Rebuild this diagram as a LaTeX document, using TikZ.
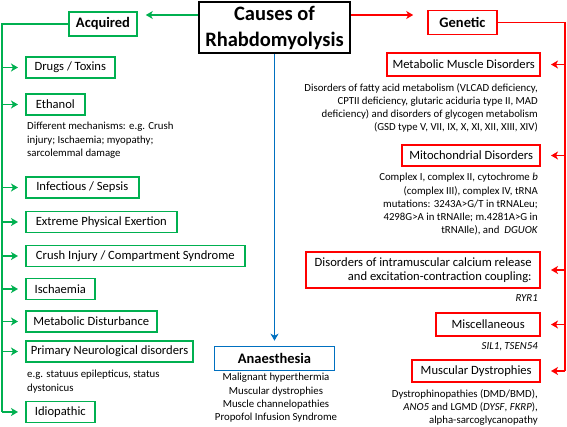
\documentclass[tikz,border=0pt]{standalone}
\usepackage{fontspec}
\setmainfont{Carlito}
\usetikzlibrary{arrows.meta}
\definecolor{acqgreen}{RGB}{0,176,80}
\definecolor{genred}{RGB}{255,0,0}
\definecolor{anablue}{RGB}{0,112,192}
\tikzset{
  greenbox/.style={draw=acqgreen, line width=1.6pt, anchor=west, inner xsep=5pt, minimum height=21pt, font=\fontsize{12.6}{14}\selectfont},
  redbox/.style={draw=genred, line width=1.6pt, anchor=east, inner xsep=5pt, minimum height=22pt, font=\fontsize{12.6}{14.5}\selectfont},
  headbox/.style={line width=1.6pt, minimum height=24pt, inner xsep=5pt, font=\fontsize{14.5}{16}\selectfont\bfseries},
  smalltext/.style={inner sep=0pt, font=\fontsize{10.8}{13.3}\selectfont},
  feedarrow/.style={-{Stealth[length=7pt,width=8pt,inset=2pt]}, line width=1.7pt}
}
\begin{document}
\begin{tikzpicture}[x=1pt,y=-1pt]
\useasboundingbox (0,0) rectangle (567,426);

\node (title) at (274.5,27.5) [draw=black, line width=2.5pt, minimum width=151pt, minimum height=51pt, align=center, font=\fontsize{20.5}{26}\selectfont\bfseries] {Causes of\\Rhabdomyolysis};

% acquired side
\node (acquired) at (103,24) [headbox, draw=acqgreen, minimum width=68pt] {Acquired};
\coordinate (tl) at ([yshift=12.5pt]title.west);
\draw[feedarrow, color=acqgreen, shorten >=8pt] (tl) -- (tl -| acquired.east);
\coordinate (gtop) at (2,24);
\coordinate (gbot) at (2,412);
\draw[color=acqgreen, line width=1.7pt] (acquired.west) -- (gtop) -- (gbot);
\foreach \name/\txt/\ypos/\bw in {drugs/{Drugs / Toxins}/67.5/89, ethanol/Ethanol/104.5/59,
    infect/{Infectious / Sepsis}/187.5/113, exertion/Extreme Physical Exertion/222/151,
    crush/{Crush Injury / Compartment Syndrome}/256/219, ischaemia/Ischaemia/289/69,
    metdist/Metabolic Disturbance/321.5/131, neuro/Primary Neurological disorders/351.5/164,
    idio/Idiopathic/412/69} {
  \node (\name) at (25,\ypos) [greenbox, minimum width=\bw pt] {\txt};
  \draw[feedarrow, color=acqgreen, shorten >=7pt] (gtop |- \name.west) -- (\name.west);
}
\node (ethanoltxt) at (27,122) [smalltext, anchor=north west, align=left] {Different mechanisms: e.g. Crush\\injury; Ischaemia; myopathy;\\sarcolemmal damage};
\node (neurotxt) at (27,370) [smalltext, anchor=north west, align=left] {e.g. statuus epilepticus, status\\dystonicus};

% genetic side
\node (genetic) at (462.5,22.5) [headbox, draw=genred, minimum width=69pt] {Genetic};
\coordinate (tr) at ([yshift=12.5pt]title.east);
\draw[feedarrow, color=genred, shorten >=14pt] (tr) -- (tr -| genetic.west);
\node (mmd) at (541,64.5) [redbox, minimum width=153pt, minimum height=23pt] {Metabolic Muscle Disorders};
\node (mito) at (541,155.5) [redbox, minimum width=138pt, minimum height=21pt] {Mitochondrial Disorders};
\node (calcium) at (541,270) [redbox, minimum width=234pt, minimum height=36pt, align=right] {Disorders of intramuscular calcium release\\and excitation-contraction coupling:};
\node (misc) at (541,324.5) [redbox, minimum width=104pt, minimum height=23pt] {Miscellaneous};
\node (muscdys) at (541,371) [redbox, minimum width=128pt] {Muscular Dystrophies};
\coordinate (rtop) at (565,22.5);
\draw[color=genred, line width=1.7pt] (genetic.east) -- (rtop) -- (rtop |- muscdys.east);
\foreach \name in {mmd,mito,calcium,misc,muscdys} {
  \draw[feedarrow, color=genred, shorten >=10pt] (rtop |- \name.east) -- (\name.east);
}
\node (mmdtxt) at (538,83) [smalltext, anchor=north east, align=right] {Disorders of fatty acid metabolism (VLCAD deficiency,\\CPTII deficiency, glutaric aciduria type II, MAD\\deficiency) and disorders of glycogen metabolism\\(GSD type V, VII, IX, X, XI, XII, XIII, XIV)};
\node (mitotxt) at (538,173) [smalltext, anchor=north east, align=right] {Complex I, complex II, cytochrome \textit{b}\\(complex III), complex IV, tRNA\\mutations: 3243A>G/T in tRNALeu;\\4298G>A in tRNAIle; m.4281A>G in\\tRNAIle), and \ \textit{DGUOK}};
\node (calciumtxt) at (538,298) [smalltext, anchor=east] {\textit{RYR1}};
\node (misctxt) at (538,347) [smalltext, anchor=east] {\textit{SIL1}, \textit{TSEN54}};
\node (muscdystxt) at (538,389) [smalltext, anchor=north east, align=right] {Dystrophinopathies (DMD/BMD),\\\textit{ANO5} and LGMD (\textit{DYSF}, \textit{FKRP}),\\alpha-sarcoglycanopathy};

% anaesthesia
\node (anaes) at (274.5,358.5) [headbox, draw=anablue, minimum width=120pt] {Anaesthesia};
\draw[feedarrow, color=anablue, line width=1.3pt, shorten >=5pt] (title.south) -- (anaes.north);
\node (anaestxt) at (276,373) [smalltext, anchor=north, align=center] {Malignant hyperthermia\\Muscular dystrophies\\Muscle channelopathies\\Propofol Infusion Syndrome};
\end{tikzpicture}
\end{document}
